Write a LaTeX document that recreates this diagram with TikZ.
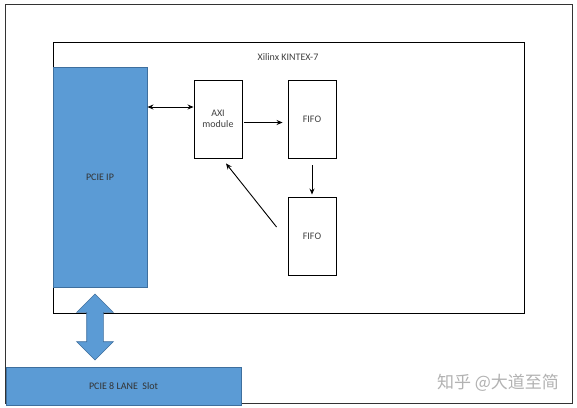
\documentclass[tikz,border=0pt]{standalone}
\usepackage{fontspec}
\setmainfont{Carlito}
\newfontfamily\cjk{Noto Sans CJK SC}
\usetikzlibrary{arrows.meta,shapes.arrows}
\definecolor{pcieblue}{HTML}{5B9BD5}
\definecolor{pcieline}{HTML}{3E6F9E}
\tikzset{
  blockbox/.style={draw,line width=.9pt,minimum width=48pt,minimum height=78pt,inner sep=0pt,align=center,text=black!75,font=\fontsize{10}{11}\selectfont},
  bluebox/.style={draw=pcieline,fill=pcieblue,line width=.9pt,inner sep=0pt,text=black!80,font=\fontsize{10}{11}\selectfont},
  arr/.style={-{Stealth[length=6pt,width=5pt]},line width=.9pt}
}
\begin{document}
\begin{tikzpicture}[x=1pt,y=-1pt]
						\useasboundingbox (0,0) rectangle (577,407);
						\fill[white](0,0) rectangle (577,407);
						\draw[black!80,line width=.7pt](5,4) rectangle (572,403);
						\node[draw,line width=.9pt,minimum width=471pt,minimum height=271pt,inner sep=0pt] (chip) at (288.5,177.5) {};
						\node[text=black!75,font=\fontsize{10}{11}\selectfont] (chiplabel) at (288,57) {Xilinx KINTEX-7};
						\node[bluebox,minimum width=94pt,minimum height=220pt] (pcie) at (100,177) {PCIE IP};
						\node[blockbox] (axi) at (218,119) {AXI\\module};
						\node[blockbox] (fifoA) at (312,119) {FIFO};
						\node[blockbox] (fifoB) at (312,236) {FIFO};
						\node[bluebox,minimum width=235pt,minimum height=38pt] (slot) at (123.5,386) {PCIE 8 LANE\ \ Slot};
						\node[draw=pcieline,fill=pcieblue,line width=.6pt,double arrow,shape border rotate=90,minimum height=66pt,minimum width=36pt,inner sep=8pt,double arrow head extend=10pt,double arrow head indent=0pt] (link) at (95,327) {};
						\draw[arr,{Stealth[length=6pt,width=5pt]}-{Stealth[length=6pt,width=5pt]}]([yshift=12pt]pcie.east |- axi.west) -- ([yshift=12pt]axi.west);
						\draw[arr,shorten <=2pt,shorten >=5pt]([yshift=-3.5pt]axi.east) -- ([yshift=-3.5pt]fifoA.west);
						\draw[arr,shorten <=7pt,shorten >=2pt](fifoA.south) -- (fifoB.north);
						\draw[arr]([xshift=-11pt,yshift=9pt]fifoB.west) -- ([xshift=8pt,yshift=-5pt]axi.south);
						\node[text=black!30,font=\cjk\fontsize{17}{18}\selectfont] (mark) at (498,383) {知乎 @大道至简};
					\end{tikzpicture}
\end{document}
